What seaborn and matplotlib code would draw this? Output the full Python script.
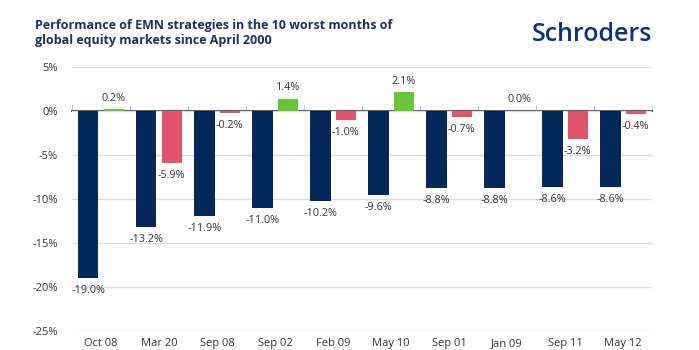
import matplotlib
matplotlib.use("Agg")
import matplotlib.pyplot as plt
import seaborn as sns
import pandas as pd

months = ["Oct 08", "Mar 20", "Sep 08", "Sep 02", "Feb 09", "May 10", "Sep 01", "Jan 09", "Sep 11", "May 12"]
equity = [-19.0, -13.2, -11.9, -11.0, -10.2, -9.6, -8.8, -8.8, -8.6, -8.6]
emn = [0.2, -5.9, -0.2, 1.4, -1.0, 2.1, -0.7, 0.0, -3.2, -0.4]
yticks = [5, 0, -5, -10, -15, -20, -25]

NAVY = "#04285a"
GREEN = "#66c63a"
PINK = "#df536b"
TITLE = "#1c2f5e"
TXT = "#333333"
GRID = "#dcdcdc"

sns.set_theme(style="white")
plt.rcParams["font.family"] = ["Open Sans", "DejaVu Sans"]

df = pd.DataFrame({
    "month": months * 2,
    "value": equity + emn,
    "series": ["Global equities"] * len(months) + ["EMN"] * len(months),
})

fig = plt.figure(figsize=(6.99, 3.5), dpi=100)
ax = fig.add_axes([0.103, 0.054, 0.830, 0.755])

sns.barplot(data=df, x="month", y="value", hue="series", palette=[NAVY, PINK],
            saturation=1, width=0.87, gap=0.2, ax=ax, legend=False,
            errorbar=None, zorder=3)

n = len(months)
patches = ax.patches[:2 * n]
for i, p in enumerate(patches[n:]):
    if emn[i] > 0:
        p.set_facecolor(GREEN)
for p in patches:
    p.set_linewidth(0)

# labels
for p, v in zip(patches[:n], equity):
    cx = p.get_x() + p.get_width() / 2
    ax.annotate(f"{v:.1f}%", (cx, v), xytext=(0, -5), textcoords="offset points",
                ha="center", va="top", fontsize=7.8, color=TXT)
for p, v in zip(patches[n:], emn):
    cx = p.get_x() + p.get_width() / 2
    if v >= 0:
        ax.annotate(f"{v:.1f}%", (cx, v), xytext=(0, 4), textcoords="offset points",
                    ha="center", va="bottom", fontsize=7.8, color=TXT)
    else:
        ax.annotate(f"{v:.1f}%", (cx, v), xytext=(0, -5), textcoords="offset points",
                    ha="center", va="top", fontsize=7.8, color=TXT)

ax.set_ylim(-25, 5)
ax.set_xlim(-0.5, n - 0.5)
ax.set_yticks(yticks)
ax.set_yticklabels([f"{t}%" for t in yticks], fontsize=8, color=TXT)
ax.set_xticks(range(n))
ax.set_xticklabels(months, fontsize=8, color=TXT)
ax.set_xlabel("")
ax.set_ylabel("")
ax.tick_params(axis="both", length=0)
ax.tick_params(axis="x", pad=5)
ax.tick_params(axis="y", pad=10)
for s in ax.spines.values():
    s.set_visible(False)
ax.yaxis.grid(True, color=GRID, linewidth=1, zorder=0)
ax.set_axisbelow(True)

# zero axis with category separators
sec = ax.secondary_xaxis(25 / 30)
sec.set_xticks([i - 0.5 for i in range(n + 1)])
sec.set_xticklabels([])
sec.tick_params(axis="x", direction="out", length=4, color="#c8c8c8", width=0.8)
sec.spines["bottom"].set_color("#c8c8c8")
sec.spines["bottom"].set_linewidth(1)

fig.text(0.05, 0.905, "Performance of EMN strategies in the 10 worst months of\nglobal equity markets since April 2000",
         fontsize=9, fontweight="bold", color=TITLE, ha="left", va="center", linespacing=1.2)
fig.text(0.933, 0.902, "Schroders", fontsize=18, fontweight="semibold", color="#0b3378",
         ha="right", va="center")

fig.savefig("out.png", dpi=100)
